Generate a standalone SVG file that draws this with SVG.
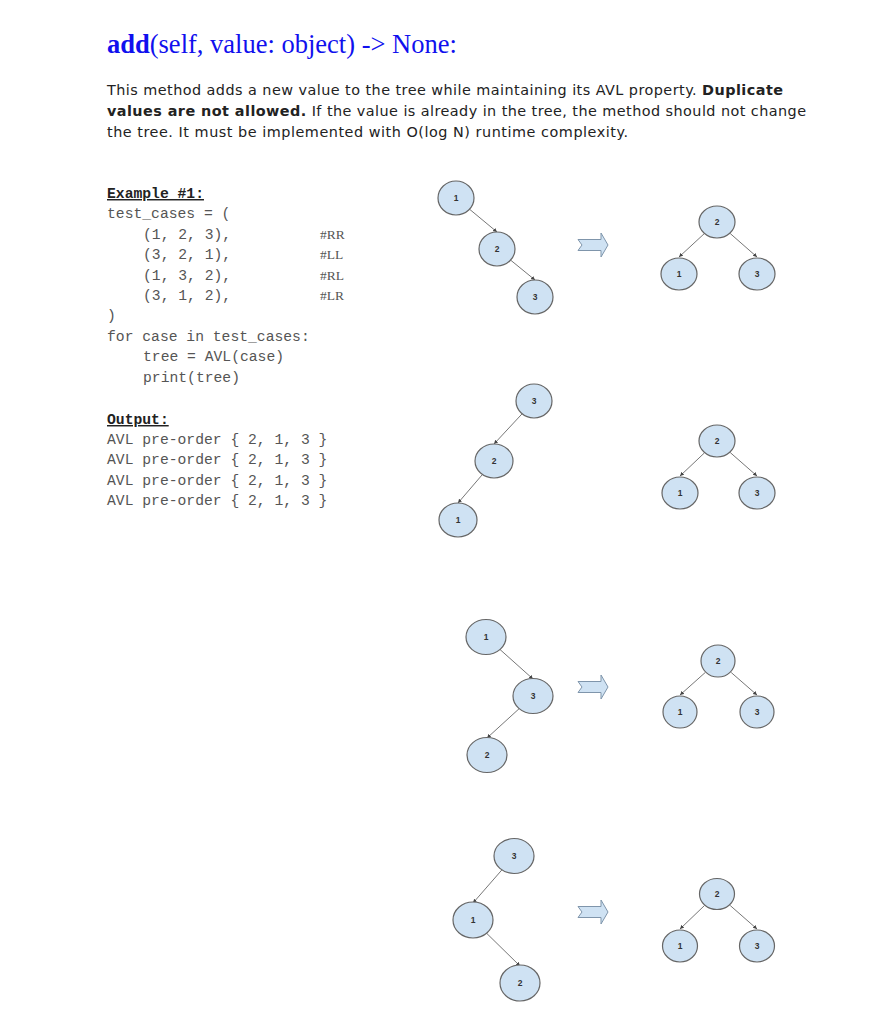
<svg xmlns="http://www.w3.org/2000/svg" width="896" height="1024" viewBox="0 0 896 1024">
<style>
.title{font-family:"Liberation Serif",serif;font-size:26.5px;fill:#1010ee}
.para{font-family:"DejaVu Sans",Verdana,sans-serif;font-size:14.4px;fill:#222}
.code{font-family:"Liberation Mono",monospace;font-size:14.7px;fill:#555}
.hdr{font-family:"Liberation Mono",monospace;font-size:14.7px;font-weight:bold;fill:#222;text-decoration:underline}
.cmt{font-family:"Liberation Serif",serif;font-size:13.5px;fill:#555}
.node ellipse{fill:#cfe2f3;stroke:#666;stroke-width:1.2}
.node text{font-family:"Liberation Sans",Arial,sans-serif;font-size:8.5px;font-weight:bold;fill:#333;text-anchor:middle}
.edge{stroke:#777;stroke-width:1;fill:none;marker-end:url(#ah)}
.barrow{fill:#cfe2f3;stroke:#7f95ab;stroke-width:1}
</style>
<defs>
<marker id="ah" markerUnits="userSpaceOnUse" markerWidth="5" markerHeight="5" refX="4" refY="2" orient="auto">
<path d="M0,0 L4,2 L0,4 Z" fill="#444"/>
</marker>
</defs>
<rect width="896" height="1024" fill="#fff"/>
<g id="heading">
<text class="title" x="107" y="53"><tspan font-weight="bold">add</tspan>(self, value: object) -&gt; None:</text>
<text class="para" x="107" y="95" textLength="676" lengthAdjust="spacing">This method adds a new value to the tree while maintaining its AVL property. <tspan font-weight="bold">Duplicate</tspan></text>
<text class="para" x="107" y="116" textLength="699" lengthAdjust="spacing"><tspan font-weight="bold">values are not allowed.</tspan> If the value is already in the tree, the method should not change</text>
<text class="para" x="107" y="137" textLength="521" lengthAdjust="spacing">the tree. It must be implemented with O(log N) runtime complexity.</text>
</g>
<g id="code">
<text class="hdr" x="107" y="198">Example #1:</text>
<text class="code" x="107" y="218" xml:space="preserve">test_cases = (</text>
<text class="code" x="143" y="239">(1, 2, 3),</text>
<text class="code" x="143" y="259">(3, 2, 1),</text>
<text class="code" x="143" y="280">(1, 3, 2),</text>
<text class="code" x="143" y="300">(3, 1, 2),</text>
<text class="cmt" x="320" y="239">#RR</text>
<text class="cmt" x="320" y="259">#LL</text>
<text class="cmt" x="320" y="280">#RL</text>
<text class="cmt" x="320" y="300">#LR</text>
<text class="code" x="107" y="320">)</text>
<text class="code" x="107" y="341">for case in test_cases:</text>
<text class="code" x="143" y="361">tree = AVL(case)</text>
<text class="code" x="143" y="382">print(tree)</text>
<text class="hdr" x="107" y="424">Output:</text>
<text class="code" x="107" y="444">AVL pre-order { 2, 1, 3 }</text>
<text class="code" x="107" y="464">AVL pre-order { 2, 1, 3 }</text>
<text class="code" x="107" y="485">AVL pre-order { 2, 1, 3 }</text>
<text class="code" x="107" y="505">AVL pre-order { 2, 1, 3 }</text>
</g>
<g id="connectors">
<path class="edge" d="M469.5,209.2 L497,232"/>
<path class="edge" d="M510.6,260.1 L535,280"/>
<path class="edge" d="M704.1,233.8 L679,257"/>
<path class="edge" d="M730.2,233.5 L757,257"/>
<path class="edge" d="M522.1,413.8 L494,444"/>
<path class="edge" d="M482.6,474.3 L458,503"/>
<path class="edge" d="M704.3,453 L680,476"/>
<path class="edge" d="M730.2,452.5 L757,476"/>
<path class="edge" d="M499.1,648.7 L533,679"/>
<path class="edge" d="M520.1,707.8 L487,738"/>
<path class="edge" d="M705,672.7 L680,695"/>
<path class="edge" d="M731.2,672.5 L757,695"/>
<path class="edge" d="M502.5,869.2 L473,903"/>
<path class="edge" d="M485.5,932.2 L520,966"/>
<path class="edge" d="M704.3,905.7 L680,929"/>
<path class="edge" d="M730.2,905.5 L757,929"/>
</g>
<g id="arrows">
<path id="arrow1" class="barrow" d="M578,239.5 L601,239.5 L601,233 L608,245 L601,257 L601,250.5 L578,250.5 L582,245 Z"/>
<path id="arrow3" class="barrow" d="M578,681.5 L601,681.5 L601,675 L608,687 L601,699 L601,692.5 L578,692.5 L582,687 Z"/>
<path id="arrow4" class="barrow" d="M578,906.5 L601,906.5 L601,900 L608,912 L601,924 L601,917.5 L578,917.5 L582,912 Z"/>
</g>
<g id="t1n1" class="node"><ellipse cx="456" cy="198" rx="18" ry="17"/><text x="456" y="201">1</text></g>
<g id="t1n2" class="node"><ellipse cx="497" cy="249" rx="18" ry="17"/><text x="497" y="252">2</text></g>
<g id="t1n3" class="node"><ellipse cx="535" cy="297" rx="18" ry="17"/><text x="535" y="300">3</text></g>
<g id="r1n2" class="node"><ellipse cx="717" cy="222" rx="18" ry="16"/><text x="717" y="225">2</text></g>
<g id="r1n1" class="node"><ellipse cx="679" cy="274" rx="18" ry="16"/><text x="679" y="277">1</text></g>
<g id="r1n3" class="node"><ellipse cx="757" cy="274" rx="18" ry="16"/><text x="757" y="277">3</text></g>
<g id="t2n3" class="node"><ellipse cx="534" cy="401" rx="18" ry="17"/><text x="534" y="404">3</text></g>
<g id="t2n2" class="node"><ellipse cx="494" cy="461" rx="19" ry="17"/><text x="494" y="464">2</text></g>
<g id="t2n1" class="node"><ellipse cx="458" cy="520" rx="19" ry="17"/><text x="458" y="523">1</text></g>
<g id="r2n2" class="node"><ellipse cx="717" cy="441" rx="18" ry="16"/><text x="717" y="444">2</text></g>
<g id="r2n1" class="node"><ellipse cx="680" cy="493" rx="18" ry="16"/><text x="680" y="496">1</text></g>
<g id="r2n3" class="node"><ellipse cx="757" cy="493" rx="18" ry="16"/><text x="757" y="496">3</text></g>
<g id="t3n1" class="node"><ellipse cx="486" cy="637" rx="20" ry="17.5"/><text x="486" y="640">1</text></g>
<g id="t3n3" class="node"><ellipse cx="533" cy="696" rx="20" ry="17.5"/><text x="533" y="699">3</text></g>
<g id="t3n2" class="node"><ellipse cx="487" cy="755" rx="20" ry="17.5"/><text x="487" y="758">2</text></g>
<g id="r3n2" class="node"><ellipse cx="718" cy="661" rx="17" ry="16"/><text x="718" y="664">2</text></g>
<g id="r3n1" class="node"><ellipse cx="680" cy="712" rx="17" ry="16"/><text x="680" y="715">1</text></g>
<g id="r3n3" class="node"><ellipse cx="757" cy="712" rx="17" ry="16"/><text x="757" y="715">3</text></g>
<g id="t4n3" class="node"><ellipse cx="514" cy="856" rx="20" ry="17.5"/><text x="514" y="859">3</text></g>
<g id="t4n1" class="node"><ellipse cx="473" cy="920" rx="20" ry="18"/><text x="473" y="923">1</text></g>
<g id="t4n2" class="node"><ellipse cx="520" cy="983" rx="20" ry="18"/><text x="520" y="986">2</text></g>
<g id="r4n2" class="node"><ellipse cx="717" cy="894" rx="17.5" ry="15.5"/><text x="717" y="897">2</text></g>
<g id="r4n1" class="node"><ellipse cx="680" cy="946" rx="17.5" ry="16"/><text x="680" y="949">1</text></g>
<g id="r4n3" class="node"><ellipse cx="757" cy="946" rx="17.5" ry="16"/><text x="757" y="949">3</text></g>
</svg>
